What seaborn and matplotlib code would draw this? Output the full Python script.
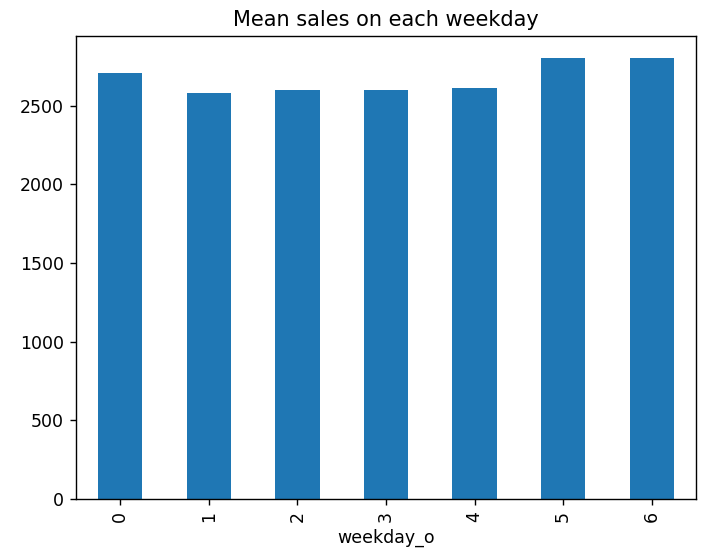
import matplotlib
matplotlib.use("Agg")
import matplotlib.pyplot as plt
import seaborn as sns
import pandas as pd

weekdays = [0, 1, 2, 3, 4, 5, 6]
mean_sales = [2708, 2581, 2597, 2597, 2612, 2803, 2803]

df = pd.DataFrame({"weekday_o": weekdays, "sales": mean_sales})

dpi = 125
fig = plt.figure(figsize=(713 / dpi, 554 / dpi), dpi=dpi)
ax = fig.add_axes([76 / 713, 55 / 554, 620 / 713, 463 / 554])

sns.barplot(data=df, x="weekday_o", y="sales", color="#1f77b4",
            saturation=1, width=0.5, ax=ax, errorbar=None)

ax.set_xlim(-0.5, 6.5)
ax.set_ylim(0, max(mean_sales) * 1.05)
ax.set_ylabel("")
ax.set_xlabel("weekday_o")
ax.set_title("Mean sales on each weekday")
ax.tick_params(axis="x", labelrotation=90)

fig.savefig("out.png", dpi=dpi)
